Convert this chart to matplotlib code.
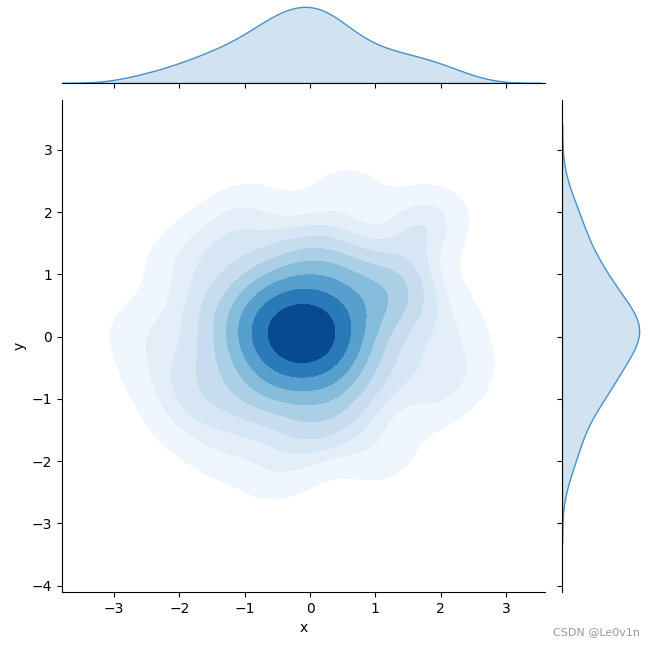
import matplotlib
matplotlib.use("Agg")
import matplotlib.pyplot as plt
import seaborn as sns
import pandas as pd

# hand-read sample points approximating the plotted distribution
x = [-2.6, -2.3, -2.0, -1.9, -1.7, -1.5, -1.4, -1.3, -1.2, -1.1,
     -1.0, -0.95, -0.9, -0.8, -0.75, -0.7, -0.6, -0.55, -0.5, -0.45,
     -0.4, -0.35, -0.3, -0.25, -0.2, -0.15, -0.1, -0.05, 0.0, 0.05,
     0.1, 0.15, 0.2, 0.25, 0.3, 0.35, 0.4, 0.5, 0.55, 0.6,
     0.7, 0.8, 0.9, 1.0, 1.1, 1.2, 1.3, 1.5, 1.7, 1.8,
     1.9, 2.1, 2.3, -0.6, 0.2, -0.3, 0.1, 0.4, -1.6, 1.4]
y = [0.1, -0.6, 1.2, -1.3, 0.5, -0.2, 1.6, -1.8, 0.3, 0.9,
     -0.8, 2.0, -0.1, -1.1, 0.6, 0.2, -0.5, 1.1, -2.2, 0.0,
     0.4, -0.9, 0.8, -0.3, 1.5, -1.4, 0.1, -0.6, 0.2, -0.1,
     0.7, -1.6, 0.3, 1.3, -0.4, -0.9, 0.5, -0.2, 2.3, -1.2,
     0.9, -0.7, 0.1, 0.4, -1.9, 1.0, -0.4, 0.6, 1.7, 1.9,
     -1.0, 0.2, -0.5, -0.1, 0.0, 0.3, -0.2, 1.2, -0.8, 0.8]

df = pd.DataFrame({"x": x, "y": y})
plt.rcParams["font.size"] = 10

g = sns.jointplot(data=df, x="x", y="y", kind="kde", fill=True, cmap="Blues",
                  height=6, joint_kws={"bw_adjust": 0.85},
                  marginal_kws={"color": "#4a90c8", "bw_adjust": 0.85})
g.fig.set_size_inches(6.5, 6.47)
W, H = 650, 647
g.ax_joint.set_position([62 / W, 55 / H, 483 / W, 492 / H])
g.ax_marg_x.set_position([62 / W, (H - 83) / H, 483 / W, 80 / H])
g.ax_marg_y.set_position([562 / W, 55 / H, 81 / W, 492 / H])
g.ax_joint.set_xlim(-3.8, 3.6)
g.ax_joint.set_ylim(-4.1, 3.8)
g.ax_joint.set_xticks([-3, -2, -1, 0, 1, 2, 3])
g.ax_joint.set_yticks([-4, -3, -2, -1, 0, 1, 2, 3])
g.fig.text(0.985, 0.015, "CSDN @Le0v1n", ha="right", va="bottom",
           fontsize=8, color="#999999")
g.fig.savefig("out.png", dpi=100)
